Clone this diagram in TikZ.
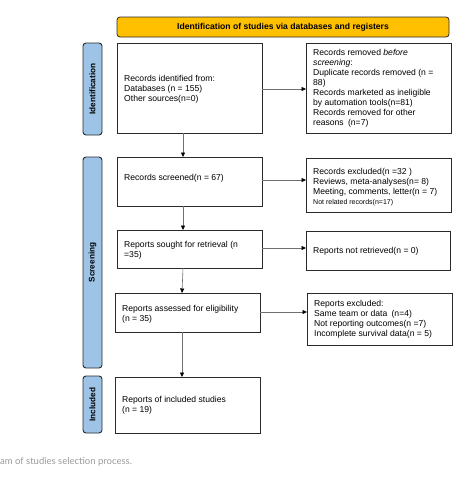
\documentclass[tikz,border=0pt]{standalone}
\usepackage{fontspec}
\setmainfont{Liberation Sans}
\newfontfamily\capfont{Lato}
\usetikzlibrary{arrows.meta}
\definecolor{hdr}{HTML}{FFC000}
\definecolor{bar}{HTML}{9DC3E6}
\definecolor{edge}{HTML}{2B2B2B}
\definecolor{conn}{HTML}{707070}
\begin{document}
\begin{tikzpicture}[x=1pt,y=-1pt,
  box/.style={draw=edge,line width=0.9pt,fill=white,inner sep=0pt},
  txt/.style={anchor=north west,align=left,font=\fontsize{8.6}{10}\selectfont,inner sep=0pt},
  sidebar/.style={draw=edge,line width=0.9pt,fill=bar,rounded corners=3pt},
  sidetxt/.style={rotate=90,font=\fontsize{8.2}{9}\selectfont\bfseries,inner sep=0pt},
  conline/.style={draw=conn,line width=0.6pt},
  arr/.style={conline,-{Triangle[length=4.5pt,width=4pt,fill=black,color=black]}}
]
\useasboundingbox (0,0) rectangle (474,480);
% header
\draw[draw=edge,line width=0.8pt,fill=hdr,rounded corners=3pt] (117,17) rectangle (449,37);
\node[font=\fontsize{8.6}{9}\selectfont\bfseries] (hdr) at (283,27.5) {Identification of studies via databases and registers};
% side bars
\draw[sidebar] (83,43) rectangle (102,135);
\node[sidetxt] (sid) at (92.5,89) {Identification};
\draw[sidebar] (83,157) rectangle (102,368);
\node[sidetxt] (sscr) at (92.5,262.5) {Screening};
\draw[sidebar] (83,376) rectangle (102,433);
\node[sidetxt] (sinc) at (92.5,404.5) {Included};
% left boxes
\path[box] (117,43) rectangle (262,133);
\node[txt] (t1) at (124,75) {Records identified from:\\Databases (n = 155)\\Other sources(n=0)};
\path[box] (117,157) rectangle (262,206);
\node[txt] (t2) at (124,174) {Records screened(n = 67)};
\path[box] (117,230) rectangle (262,268);
\node[txt] (t3) at (124,241) {Reports sought for retrieval (n\\=35)};
\path[box] (115,293) rectangle (260,332);
\node[txt] (t4) at (122,305) {Reports assessed for eligibility\\(n = 35)};
\path[box] (115,377) rectangle (260,433);
\node[txt] (t5) at (122,396) {Reports of included studies\\(n = 19)};
% right boxes
\path[box] (306,43) rectangle (451,133);
\node[txt] (r1) at (313,49) {Records removed \textit{before}\\\textit{screening}:\\Duplicate records removed (n =\\88)\\Records marketed as ineligible\\by automation tools(n=81)\\Records removed for other\\reasons\hspace{0.5em}(n=7)};
\path[box] (306,158) rectangle (451,212);
\node[txt] (r2) at (313,168) {Records excluded(n =32 )\\Reviews, meta-analyses(n= 8)\\Meeting, comments, letter(n = 7)\\{\fontsize{7}{10}\selectfont Not related records(n=17)}};
\path[box] (306,231) rectangle (450,270);
\node[txt] (r3) at (313,247) {Reports not retrieved(n = 0)};
\path[box] (307,293) rectangle (452,345);
\node[txt] (r4) at (314,300) {Reports excluded:\\Same team or data\hspace{0.5em}(n=4)\\Not reporting outcomes(n =7)\\Incomplete survival data(n = 5)};
% named anchors for connectors
\coordinate (L1b) at (183,133); \coordinate (L2t) at (183,157);
\coordinate (L2b) at (183,206); \coordinate (L3t) at (183,230);
\coordinate (L3b) at (183,268); \coordinate (L4t) at (182,293);
\coordinate (L4b) at (182,332); \coordinate (L5t) at (182,377);
\coordinate (L1r) at (262,89); \coordinate (R1l) at (306,89);
\coordinate (L2r) at (262,180); \coordinate (R2l) at (306,180);
\coordinate (L3r) at (262,248); \coordinate (R3l) at (306,248);
\coordinate (L4r) at (260,312); \coordinate (R4l) at (307,312);
\draw[arr] (L1b) -- (L2t);
\draw[arr] (L2b) -- (L3t);
\draw[arr] (L3b) -- (L4t);
\draw[arr] (L4b) -- (L5t);
\draw[arr] (L1r) -- (R1l);
\draw[arr] (L2r) -- (R2l);
\draw[arr] (L3r) -- (R3l);
\draw[arr] (L4r) -- (R4l);
% caption
\node[anchor=west,inner sep=0pt,text=gray!80,font=\capfont\fontsize{9.5}{11}\selectfont] (cap) at (0,462) {am of studies selection process.};
\end{tikzpicture}
\end{document}
